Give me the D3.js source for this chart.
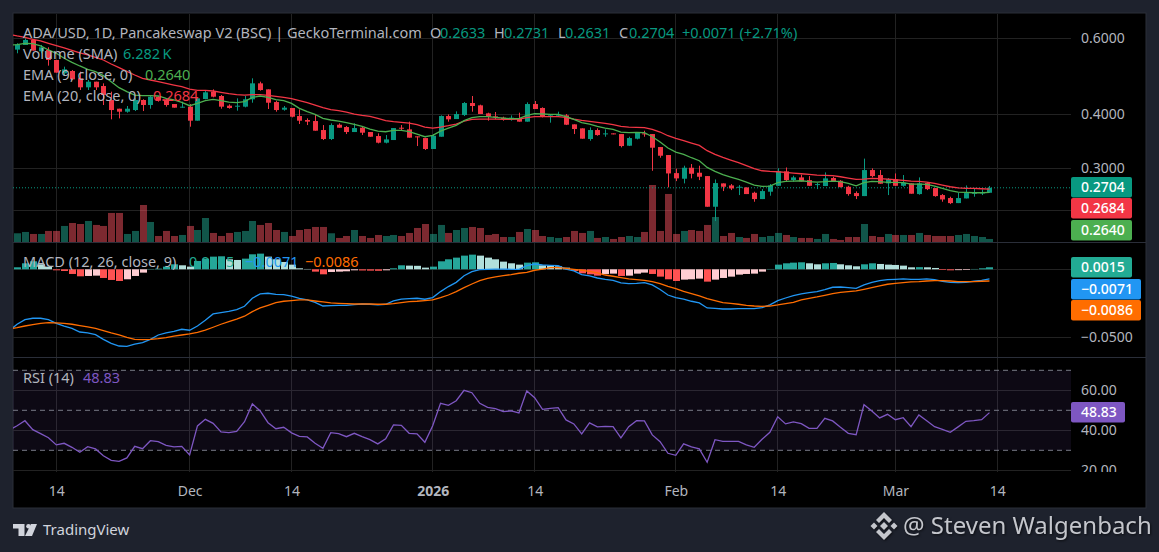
<!DOCTYPE html>
<html>
<head>
<meta charset="utf-8">
<script src="https://cdn.jsdelivr.net/npm/d3@7"></script>
<style>
  html, body { margin: 0; padding: 0; background: #1e222d; overflow: hidden; }
  text { font-family: "Noto Sans", sans-serif; }
</style>
</head>
<body>
<div id="chart"></div>
<script>
// ADA/USD daily bars, 8 Nov 2025 to 13 Mar 2026 (the first one sits just off the left edge)
var dates = d3.utcDay.range(new Date(Date.UTC(2025, 10, 8)), new Date(Date.UTC(2026, 2, 14)));

var opens = [.5800,
  .5649,.5790,.5947,.5598,.5638,.5345,.4978,.5040,.4847,.4620,
  .4761,.4652,.4318,.4122,.4057,.4093,.4318,.4204,.4395,.4334,
  .4226,.4152,.4167,.3867,.4341,.4514,.4411,.4189,.4175,.4167,
  .4334,.4719,.4570,.4271,.4100,.4138,.3964,.3881,.3860,.3679,
  .3507,.3785,.3738,.3640,.3725,.3640,.3563,.3439,.3488,.3725,
  .3692,.3557,.3525,.3325,.3550,.3964,.3901,.3985,.4249,.4197,
  .4021,.3957,.3929,.3908,.3915,.3847,.4226,.4138,.3964,.3978,
  .3978,.3792,.3712,.3507,.3679,.3601,.3614,.3601,.3384,.3513,
  .3614,.3601,.3360,.3220,.2924,.2838,.3009,.2930,.2878,.2444,
  .2768,.2738,.2709,.2709,.2633,.2546,.2648,.2733,.2951,.2817,
  .2858,.2817,.2748,.2729,.2848,.2807,.2719,.2629,.2587,.2972,
  .2894,.2768,.2827,.2733,.2768,.2615,.2773,.2700,.2601,.2560,
  .2492,.2555,.2624,.2629,.2633];
var highs = [.5920,
  .5842,.6000,.5968,.5790,.5719,.5345,.5158,.5067,.5022,.4804,
  .4761,.4719,.4514,.4122,.4182,.4356,.4334,.4411,.4411,.4356,
  .4226,.4280,.4226,.4356,.4554,.4570,.4434,.4219,.4356,.4411,
  .4847,.4761,.4570,.4303,.4182,.4138,.4108,.3915,.3985,.3778,
  .3812,.3812,.3758,.3812,.3745,.3640,.3614,.3582,.3718,.3778,
  .3847,.3557,.3532,.3595,.3978,.3999,.4064,.4271,.4411,.4212,
  .4035,.4050,.3950,.3978,.4035,.4264,.4295,.4152,.3999,.4057,
  .4007,.3792,.3712,.3732,.3712,.3692,.3614,.3601,.3550,.3640,
  .3666,.3601,.3360,.3220,.2994,.3042,.3069,.3042,.2878,.2827,
  .2768,.2758,.2743,.2709,.2648,.2685,.2758,.3001,.3013,.2884,
  .2899,.2878,.2778,.2935,.2868,.2817,.2733,.2653,.3159,.2999,
  .2972,.2848,.2919,.2894,.2768,.2858,.2788,.2700,.2615,.2578,
  .2633,.2738,.2690,.2680,.2731];
var lows = [.5600,
  .5539,.5790,.5618,.5539,.5186,.4996,.4934,.4804,.4554,.4554,
  .4554,.4204,.3895,.3915,.4035,.4071,.4071,.4122,.4280,.4167,
  .4145,.4145,.3745,.3867,.4334,.4380,.4122,.4122,.4079,.4152,
  .4256,.4538,.4115,.4057,.4079,.3936,.3799,.3778,.3666,.3488,
  .3488,.3725,.3601,.3640,.3582,.3550,.3426,.3426,.3488,.3666,
  .3532,.3378,.3307,.3325,.3550,.3847,.3901,.3964,.4057,.4007,
  .3867,.3895,.3867,.3867,.3847,.3847,.4115,.3936,.3826,.3950,
  .3778,.3601,.3513,.3475,.3569,.3550,.3595,.3354,.3378,.3500,
  .3550,.2961,.3174,.2710,.2802,.2768,.2843,.2817,.2444,.2264,
  .2657,.2671,.2601,.2615,.2510,.2546,.2592,.2733,.2793,.2793,
  .2797,.2729,.2685,.2729,.2802,.2709,.2592,.2546,.2587,.2858,
  .2763,.2601,.2733,.2719,.2620,.2606,.2671,.2578,.2510,.2479,
  .2492,.2555,.2578,.2601,.2631];
var closes = [.5649,
  .5811,.5947,.5618,.5719,.5345,.4996,.5085,.4821,.4620,.4761,
  .4620,.4434,.4093,.4057,.4122,.4318,.4204,.4395,.4303,.4204,
  .4145,.4167,.3867,.4356,.4498,.4395,.4167,.4138,.4189,.4334,
  .4719,.4554,.4256,.4093,.4145,.3950,.3867,.3847,.3666,.3507,
  .3778,.3725,.3640,.3718,.3627,.3550,.3439,.3500,.3718,.3712,
  .3532,.3544,.3325,.3569,.3964,.3895,.4007,.4249,.4182,.4007,
  .3950,.3936,.3895,.3929,.3847,.4226,.4115,.3950,.3978,.3992,
  .3785,.3699,.3513,.3679,.3582,.3614,.3601,.3378,.3525,.3627,
  .3601,.3348,.3208,.2919,.2843,.3009,.2914,.2868,.2444,.2773,
  .2719,.2695,.2719,.2615,.2546,.2657,.2738,.2951,.2817,.2858,
  .2797,.2733,.2758,.2843,.2802,.2714,.2615,.2587,.2972,.2878,
  .2763,.2832,.2733,.2778,.2620,.2768,.2685,.2587,.2541,.2492,
  .2560,.2629,.2633,.2638,.2704];
// thousands
var volumes = [17.0,
  17.0,19.5,15.7,15.7,21.4,21.4,30.8,36.4,34.5,40.2,
  32.7,30.8,55.3,55.3,15.7,21.4,70.3,38.3,11.9,21.4,
  11.9,13.8,30.8,23.2,45.8,17.6,11.9,17.6,19.5,21.4,
  40.2,32.7,36.4,23.2,19.5,11.9,23.2,25.1,28.9,28.9,
  17.0,8.2,11.9,23.2,11.9,8.2,13.8,11.9,13.8,11.9,
  17.6,27.0,34.5,15.7,32.7,17.6,23.2,27.0,28.9,27.0,
  13.8,15.7,10.0,10.0,19.5,25.1,23.2,11.9,10.0,8.2,
  10.0,21.4,17.6,21.4,8.2,10.0,6.3,10.0,11.9,10.0,
  19.5,108,21.4,91.1,15.7,21.4,23.2,21.4,32.7,47.7,
  11.9,17.6,10.0,8.2,15.7,10.0,11.9,17.6,13.8,10.0,
  8.2,8.2,6.3,15.7,6.3,4.4,10.0,10.0,34.5,11.9,
  10.0,15.7,13.8,13.8,13.8,17.6,13.8,11.9,11.9,11.9,
  13.8,15.7,11.9,10.0,6.282];
var ema20 = [.6129,
  .6075,.6032,.5968,.5915,.5842,.5770,.5699,.5628,.5549,.5490,
  .5422,.5345,.5232,.5130,.5031,.4934,.4847,.4804,.4761,.4719,
  .4677,.4636,.4578,.4546,.4546,.4530,.4498,.4466,.4442,.4434,
  .4442,.4442,.4427,.4403,.4380,.4349,.4303,.4256,.4204,.4145,
  .4100,.4079,.4050,.4007,.3978,.3957,.3915,.3867,.3847,.3833,
  .3819,.3785,.3738,.3718,.3738,.3765,.3799,.3860,.3895,.3901,
  .3901,.3901,.3895,.3895,.3901,.3929,.3950,.3950,.3950,.3950,
  .3936,.3901,.3874,.3853,.3833,.3812,.3785,.3752,.3738,.3732,
  .3725,.3692,.3640,.3569,.3519,.3475,.3432,.3390,.3295,.3231,
  .3180,.3135,.3091,.3042,.2994,.2961,.2951,.2945,.2935,.2924,
  .2914,.2904,.2894,.2889,.2884,.2868,.2848,.2827,.2832,.2843,
  .2838,.2832,.2822,.2812,.2802,.2797,.2788,.2768,.2743,.2719,
  .2704,.2695,.2695,.2690,.2684];
var ema9 = [.5790,
  .5800,.5842,.5832,.5760,.5638,.5539,.5393,.5279,.5177,.5085,
  .5022,.4916,.4761,.4612,.4514,.4434,.4419,.4419,.4411,.4356,
  .4318,.4264,.4189,.4241,.4303,.4334,.4303,.4271,.4256,.4280,
  .4380,.4411,.4380,.4326,.4303,.4241,.4130,.4057,.4000,.3915,
  .3881,.3860,.3826,.3792,.3752,.3699,.3659,.3646,.3673,.3673,
  .3646,.3601,.3550,.3576,.3659,.3718,.3772,.3867,.3929,.3950,
  .3950,.3936,.3922,.3908,.3908,.3978,.4014,.4007,.4000,.4000,
  .3950,.3895,.3826,.3799,.3752,.3718,.3692,.3640,.3627,.3633,
  .3627,.3550,.3451,.3342,.3272,.3231,.3174,.3124,.3014,.2951,
  .2899,.2863,.2827,.2788,.2743,.2724,.2729,.2778,.2797,.2802,
  .2807,.2793,.2788,.2793,.2802,.2793,.2768,.2733,.2778,.2797,
  .2793,.2783,.2783,.2778,.2758,.2758,.2753,.2729,.2695,.2662,
  .2643,.2638,.2633,.2633,.2640];
var macdLine = [-.0453,
  -.0404,-.0370,-.0360,-.0360,-.0370,-.0397,-.0417,-.0434,-.0461,-.0468,
  -.0480,-.0515,-.0544,-.0564,-.0566,-.0551,-.0539,-.0515,-.0483,-.0468,
  -.0456,-.0441,-.0448,-.0417,-.0375,-.0328,-.0319,-.0309,-.0296,-.0272,
  -.0213,-.0181,-.0176,-.0184,-.0186,-.0198,-.0213,-.0225,-.0243,-.0270,
  -.0267,-.0265,-.0265,-.0260,-.0255,-.0257,-.0262,-.0257,-.0233,-.0220,
  -.0216,-.0213,-.0220,-.0208,-.0164,-.0127,-.0096,-.0047,-.0017,-.0002,
  0,.0002,.0002,0,0,.0027,.0039,.0032,.0029,.0027,
  .0002,-.0012,-.0039,-.0049,-.0064,-.0074,-.0081,-.0100,-.0105,-.0103,
  -.0098,-.0115,-.0149,-.0189,-.0208,-.0220,-.0235,-.0247,-.0284,-.0287,
  -.0292,-.0292,-.0289,-.0289,-.0289,-.0282,-.0262,-.0230,-.0211,-.0194,
  -.0181,-.0171,-.0164,-.0149,-.0132,-.0130,-.0135,-.0140,-.0115,-.0096,
  -.0083,-.0076,-.0074,-.0071,-.0074,-.0074,-.0071,-.0076,-.0088,-.0096,
  -.0098,-.0096,-.0088,-.0081,-.0071];
var signalLine = [-.0439,
  -.0429,-.0417,-.0407,-.0397,-.0392,-.0394,-.0397,-.0404,-.0414,-.0424,
  -.0434,-.0451,-.0468,-.0483,-.0500,-.0515,-.0517,-.0515,-.0510,-.0502,
  -.0492,-.0483,-.0475,-.0463,-.0448,-.0426,-.0404,-.0385,-.0367,-.0345,
  -.0311,-.0284,-.0265,-.0245,-.0235,-.0230,-.0225,-.0225,-.0233,-.0240,
  -.0247,-.0250,-.0252,-.0255,-.0255,-.0255,-.0257,-.0257,-.0252,-.0245,
  -.0238,-.0235,-.0230,-.0225,-.0208,-.0189,-.0164,-.0135,-.0108,-.0083,
  -.0066,-.0056,-.0047,-.0039,-.0029,-.0022,-.0007,.0002,.0012,.0012,
  .0007,0,-.0007,-.0015,-.0027,-.0042,-.0051,-.0061,-.0071,-.0076,
  -.0081,-.0091,-.0105,-.0125,-.0142,-.0162,-.0179,-.0196,-.0216,-.0230,
  -.0245,-.0250,-.0257,-.0265,-.0270,-.0272,-.0270,-.0262,-.0252,-.0243,
  -.0225,-.0213,-.0203,-.0191,-.0179,-.0169,-.0164,-.0159,-.0147,-.0135,
  -.0122,-.0110,-.0103,-.0098,-.0093,-.0091,-.0086,-.0083,-.0083,-.0086,
  -.0091,-.0091,-.0091,-.0088,-.0086];
var histogram = [.00049,
  .00147,.00441,.00588,.00368,.00196,-.00074,-.00123,-.00343,-.00515,-.0049,
  -.00466,-.00637,-.00784,-.00858,-.00735,-.0049,-.00245,.00025,.00049,.00196,
  .00368,.00294,.00196,.00613,.00784,.00931,.00956,.00735,.00686,.00784,
  .01103,.01152,.00931,.00735,.00539,.00343,.00074,.00025,-.00172,-.00368,
  -.00196,-.00172,-.00147,-.00074,-.00086,-.00098,-.0011,-.00074,.00074,.00294,
  .0027,.00257,.00123,.00196,.00588,.00735,.00858,.01005,.01078,.01005,
  .00858,.00735,.00564,.00441,.00343,.0049,.00515,.00294,.0027,.00221,
  .00123,-.00123,-.00294,-.00368,-.00466,-.00343,-.00319,-.0049,-.00466,-.00319,
  -.00245,-.00343,-.00539,-.00735,-.00858,-.0076,-.00735,-.00686,-.00907,-.0076,
  -.00637,-.00539,-.00392,-.00343,-.00319,-.00172,.00025,.00343,.00441,.0049,
  .00515,.00441,.00368,.00441,.00466,.00368,.00294,.00221,.00368,.00441,
  .00392,.00343,.00319,.0027,.00147,.00159,.00147,.00098,-.00049,-.00074,
  -.00061,-.00049,.00025,.00074,.0015];
var rsi = [40.2,
  42.3,44.8,40.3,38.3,36.3,32.7,33.5,31.5,29.0,31.8,
  30.7,27.3,25.0,24.5,26.2,32.0,30.8,34.8,34.3,32.5,
  31.7,32.0,27.7,42.2,45.5,43.5,39.2,38.8,39.5,44.3,
  53.2,49.7,43.8,40.8,41.5,38.7,37.0,36.7,33.5,31.0,
  38.8,38.3,36.8,38.5,36.8,35.3,33.2,35.8,42.7,42.5,
  38.5,38.2,34.0,42.3,53.5,52.5,54.8,60.0,58.8,53.5,
  51.5,50.8,49.3,49.7,48.7,59.7,56.3,50.5,51.0,51.3,
  45.2,43.2,38.2,43.7,41.7,42.0,41.8,36.2,41.8,44.8,
  44.7,37.7,34.3,28.5,27.5,33.2,31.7,30.7,24.0,35.3,
  34.5,34.5,34.5,32.7,31.5,35.5,39.0,46.8,43.2,44.2,
  43.3,41.0,41.0,46.0,44.7,41.5,38.5,37.8,52.8,49.7,
  46.2,48.0,45.3,46.3,41.8,47.7,44.8,41.8,40.5,39.0,
  41.7,44.5,44.8,45.3,48.83];

var timeTicks = [Date.UTC(2025,10,14), Date.UTC(2025,11,1), Date.UTC(2025,11,14), Date.UTC(2026,0,1), Date.UTC(2026,0,14), Date.UTC(2026,1,1), Date.UTC(2026,1,14), Date.UTC(2026,2,1), Date.UTC(2026,2,14)].map(d => new Date(d));
var timeLabels = ["14", "Dec", "14", "2026", "14", "Feb", "14", "Mar", "14"];
var priceGrid = [0.6, 0.4, 0.3, 0.24];
var priceLabels = [0.6, 0.4, 0.3];
var macdTicks = [0, -0.05];
var macdLabels = [-0.05];
var rsiGrid = [60, 40, 20];
var rsiDashed = [70, 50, 30];
var rsiLabels = [60, 40, 20];

var upColor = "#089981", downColor = "#f23645";
var gridColor = "#222222", lineColor = "#2a2e39", textColor = "#b2b5be";
var left = 13, right = 1071, outerRight = 1146, top_ = 13, bottom = 508;
var priceBottom = 242, macdBottom = 357, rsiBottom = 472;

var svg = d3.select("#chart").append("svg")
    .attr("width", 1159)
    .attr("height", 552)
    .style("display", "block");

svg.append("rect").attr("x", left).attr("y", top_)
    .attr("width", outerRight - left).attr("height", bottom - top_)
    .attr("fill", "#000").attr("stroke", lineColor).attr("stroke-width", 1);

// one clip per pane
function addClip(id, y0, y1, x1) {
    svg.append("clipPath").attr("id", id).append("rect")
        .attr("x", left).attr("y", y0).attr("width", x1 - left).attr("height", y1 - y0);
}
addClip("clipPrice", top_ + 1, priceBottom, right);
addClip("clipMacd", priceBottom + 1, macdBottom, right);
addClip("clipRsi", macdBottom + 1, rsiBottom, right);
addClip("clipRsiAxis", macdBottom + 1, rsiBottom, outerRight);

var x = d3.scaleUtc().domain([timeTicks[0], timeTicks[8]]).range([56.3, 997.3]);
var yPrice = d3.scaleLog().domain([0.6, 0.3]).range([38.3, 168.3]);
var yVol = d3.scaleLinear().domain([0, 108]).range([242.3, 185]);
var yMacd = d3.scaleLinear().domain([0, -0.05]).range([269.3, 337.3]);
var yRsi = d3.scaleLinear().domain([70, 30]).range([370.3, 450.3]);

var bx = i => Math.round(x(dates[i])) + 0.5;
var idx = d3.range(dates.length);

// grid
var grid = svg.append("g").attr("stroke", gridColor).attr("stroke-width", 1).attr("shape-rendering", "crispEdges");
grid.selectAll(".v").data(timeTicks).enter().append("line")
    .attr("x1", d => x(d)).attr("x2", d => x(d)).attr("y1", top_ + 1).attr("y2", rsiBottom);
function hGrid(vals, scale) {
    grid.selectAll(null).data(vals).enter().append("line")
        .attr("x1", left).attr("x2", right).attr("y1", d => scale(d)).attr("y2", d => scale(d));
}
hGrid(priceGrid, yPrice);
hGrid(macdTicks, yMacd);
hGrid(rsiGrid, yRsi);

// pane separators
svg.append("g").attr("stroke", lineColor).attr("shape-rendering", "crispEdges")
    .selectAll("line").data([priceBottom, macdBottom]).enter().append("line")
    .attr("x1", left).attr("x2", outerRight).attr("y1", d => d + 0.5).attr("y2", d => d + 0.5);

// price pane
var pricePane = svg.append("g").attr("clip-path", "url(#clipPrice)");

pricePane.selectAll(".vol").data(idx).enter().append("rect")
    .attr("x", i => bx(i) - 3.5)
    .attr("width", 7)
    .attr("y", i => yVol(volumes[i]))
    .attr("height", i => yVol(0) - yVol(volumes[i]))
    .attr("fill", i => closes[i] >= opens[i] ? "#22ab94" : "#f7525f")
    .attr("opacity", 0.5);

pricePane.append("line")
    .attr("x1", left).attr("x2", right)
    .attr("y1", yPrice(closes[closes.length - 1])).attr("y2", yPrice(closes[closes.length - 1]))
    .attr("stroke", upColor).attr("stroke-dasharray", "1 2");

pricePane.selectAll(".wick").data(idx).enter().append("line")
    .attr("x1", bx).attr("x2", bx)
    .attr("y1", i => yPrice(highs[i])).attr("y2", i => yPrice(lows[i]))
    .attr("stroke", i => closes[i] >= opens[i] ? upColor : downColor);

pricePane.selectAll(".body").data(idx).enter().append("rect")
    .attr("x", i => bx(i) - 2.5)
    .attr("width", 5)
    .attr("y", i => yPrice(Math.max(opens[i], closes[i])))
    .attr("height", i => Math.max(1, yPrice(Math.min(opens[i], closes[i])) - yPrice(Math.max(opens[i], closes[i]))))
    .attr("fill", i => closes[i] >= opens[i] ? upColor : downColor);

function seriesLine(pane, values, scale, color, width) {
    pane.append("path")
        .datum(idx)
        .attr("fill", "none")
        .attr("stroke", color)
        .attr("stroke-width", width)
        .attr("d", d3.line().x(i => x(dates[i])).y(i => scale(values[i])));
}
seriesLine(pricePane, ema20, yPrice, "#f23645", 1.3);
seriesLine(pricePane, ema9, yPrice, "#4caf50", 1.3);

// macd pane
var macdPane = svg.append("g").attr("clip-path", "url(#clipMacd)");

macdPane.selectAll(".hist").data(idx).enter().append("rect")
    .attr("x", i => bx(i) - 3.5)
    .attr("width", 7)
    .attr("y", i => Math.min(yMacd(histogram[i]), yMacd(0)))
    .attr("height", i => Math.abs(yMacd(histogram[i]) - yMacd(0)))
    .attr("fill", i => {
        var prev = i > 0 ? histogram[i - 1] : 0;
        if (histogram[i] >= 0) return histogram[i] > prev ? "#26a69a" : "#b2dfdb";
        return histogram[i] < prev ? "#ff5252" : "#ffcdd2";
    });
seriesLine(macdPane, macdLine, yMacd, "#2196f3", 1.3);
seriesLine(macdPane, signalLine, yMacd, "#ff6d00", 1.3);

// rsi pane
var rsiPane = svg.append("g").attr("clip-path", "url(#clipRsi)");
rsiPane.append("rect")
    .attr("x", left).attr("width", right - left)
    .attr("y", yRsi(70)).attr("height", yRsi(30) - yRsi(70))
    .attr("fill", "#7e57c2").attr("opacity", 0.1);
rsiPane.selectAll(".band").data(rsiDashed).enter().append("line")
    .attr("x1", left).attr("x2", right)
    .attr("y1", d => yRsi(d)).attr("y2", d => yRsi(d))
    .attr("stroke", "#787b86").attr("stroke-dasharray", "5 4");
seriesLine(rsiPane, rsi, yRsi, "#7e57c2", 1.3);

// axes
function styleAxis(g) {
    g.select(".domain").remove();
    g.selectAll(".tick line").remove();
    g.selectAll("text").attr("fill", textColor).style("font-size", "14px").style("font-family", '"Noto Sans", sans-serif');
}
svg.append("g").attr("transform", "translate(1081,-0.7)")
    .call(d3.axisRight(yPrice).tickValues(priceLabels).tickFormat(d3.format(".4f")).tickSize(0).tickPadding(0))
    .call(styleAxis);
svg.append("g").attr("transform", "translate(1081,0)")
    .call(d3.axisRight(yMacd).tickValues(macdLabels).tickFormat(d3.format(".4f")).tickSize(0).tickPadding(0))
    .call(styleAxis);
svg.append("g").attr("clip-path", "url(#clipRsiAxis)").append("g").attr("transform", "translate(1081,0)")
    .call(d3.axisRight(yRsi).tickValues(rsiLabels).tickFormat(d3.format(".2f")).tickSize(0).tickPadding(0))
    .call(styleAxis);
svg.append("g").attr("transform", "translate(0,486)")
    .call(d3.axisBottom(x).tickValues(timeTicks).tickFormat((d, i) => timeLabels[i]).tickSize(0).tickPadding(0))
    .call(styleAxis)
    .selectAll("text").style("font-weight", (d, i) => timeLabels[i] === "2026" ? "bold" : "normal");

// last value tags
var tags = [
    [177, 61, "#089981", "0.2704"],
    [198, 61, "#f23645", "0.2684"],
    [220, 61, "#4caf50", "0.2640"],
    [257, 61, "#22ab94", "0.0015"],
    [279, 70, "#2196f3", "\u22120.0071"],
    [300, 70, "#ff6d00", "\u22120.0086"],
    [402, 54, "#7e57c2", "48.83"]
];
tags.forEach(function(t) {
    svg.append("rect").attr("x", right).attr("y", t[0]).attr("width", t[1]).attr("height", 20.5).attr("rx", 2).attr("fill", t[2]);
    svg.append("text").attr("x", 1081).attr("y", t[0] + 15.3).attr("fill", "#fff").style("font-size", "14px").style("font-weight", 500).text(t[3]);
});

// legends
function label(xPos, y, txt, color) {
    svg.append("text").attr("x", xPos).attr("y", y).attr("fill", color || textColor).style("font-size", "14.5px").text(txt);
}
label(23, 37.5, "ADA/USD, 1D, Pancakeswap V2 (BSC) | GeckoTerminal.com");
label(430, 37.5, "O"); label(440, 37.5, "0.2633", upColor);
label(494, 37.5, "H"); label(504, 37.5, "0.2731", upColor);
label(558, 37.5, "L"); label(565, 37.5, "0.2631", upColor);
label(619, 37.5, "C"); label(629, 37.5, "0.2704", upColor);
label(682, 37.5, "+0.0071 (+2.71%)", upColor);
label(23, 58.5, "Volume (SMA)"); label(123, 58.5, "6.282\u2009K", upColor);
label(23, 79.5, "EMA (9, close, 0)"); label(145, 79.5, "0.2640", "#4caf50");
label(23, 100.5, "EMA (20, close, 0)"); label(153, 100.5, "0.2684", "#f23645");
label(23, 267, "MACD (12, 26, close, 9)"); label(189, 267, "0.0015", "#22ab94");
label(245, 267, "\u22120.0071", "#2196f3"); label(305, 267, "\u22120.0086", "#ff6d00");
label(23, 383, "RSI (14)"); label(83, 383, "48.83", "#7e57c2");

// TradingView mark
var tv = svg.append("g").attr("fill", "#d1d4dc");
tv.append("path").attr("d", "M13 524h11.500v12h-6v-7.500h-5.500z");
tv.append("circle").attr("cx", 28.5).attr("cy", 526.2).attr("r", 2.3);
tv.append("path").attr("d", "M31 524h6l-5 12h-7z");
svg.append("text").attr("x", 43).attr("y", 535).attr("fill", "#d1d4dc").style("font-size", "15px").text("TradingView");

// watermark
var wm = svg.append("g").attr("fill", "#c4c6cc").style("filter", "drop-shadow(1px 1px 1px rgba(0,0,0,0.6))");
wm.append("path").attr("d", "M884 512l8 8-3 3-5-5-5 5-3-3z");
wm.append("path").attr("d", "M884 540l8-8-3-3-5 5-5-5-3 3z");
wm.append("path").attr("d", "M884 522l4 4-4 4-4-4z");
wm.append("path").attr("d", "M874 522.500l3.500 3.500-3.500 3.500-3.500-3.500z");
wm.append("path").attr("d", "M894 522.500l3.500 3.500-3.500 3.500-3.500-3.500z");
wm.append("text").attr("x", 903).attr("y", 534).style("font-size", "24px").text("@ Steven Walgenbach");
</script>
</body>
</html>
